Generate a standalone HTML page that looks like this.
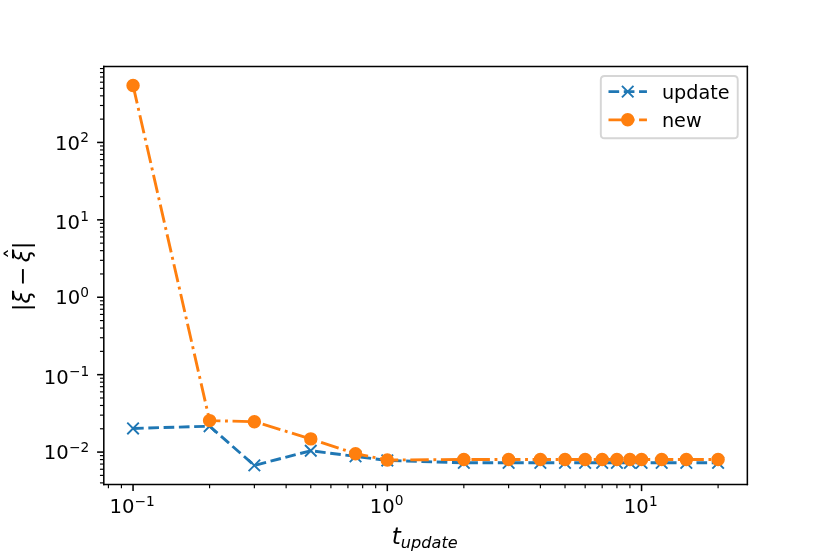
<!DOCTYPE html>
<html><head><meta charset="utf-8"><title>plot</title>
<style>html,body{margin:0;padding:0;background:#fff;width:830px;height:554px;overflow:hidden}svg{display:block}
text{font-family:"DejaVu Sans",sans-serif}</style></head>
<body>
<svg width="830.4" height="553.6" viewBox="0 0 432 288" version="1.1">
  <defs>
  <style type="text/css">*{stroke-linejoin: round; stroke-linecap: butt}</style>
 </defs>
 <g id="figure_1">
  <g id="patch_1">
   <path d="M 0 288 L 432 288 L 432 0 L 0 0 z
" style="fill: #ffffff"/>
  </g>
  <g id="axes_1">
   <g id="patch_2">
    <path d="M 54 252 L 388.8 252 L 388.8 34.56 L 54 34.56 z
" style="fill: #ffffff"/>
   </g>
   <g id="matplotlib.axis_1">
    <g id="xtick_1">
     <g id="line2d_1">
            <g>
       <path transform="translate(69.218182 252)" d="M 0 0 L 0 3.5 " style="stroke: #000000; stroke-width: 0.8"/>
      </g>
     </g>
     <g id="text_1" transform="translate(-0.5202 0.5202)">
            <g transform="translate(57.468182 266.598437) scale(1.02)">
       <text>
        <tspan x="0" y="-0.064063" style="font-size: 10px; font-family: 'DejaVu Sans'">1</tspan>
        <tspan x="6.362305" y="-0.064063" style="font-size: 10px; font-family: 'DejaVu Sans'">0</tspan>
        <tspan x="12.820312" y="-3.892188" style="font-size: 7px; font-family: 'DejaVu Sans'">−</tspan>
        <tspan x="18.685547" y="-3.892188" style="font-size: 7px; font-family: 'DejaVu Sans'">1</tspan>
       </text>
      </g>
     </g>
    </g>
    <g id="xtick_2">
     <g id="line2d_2">
      <g>
       <path transform="translate(201.490963 252)" d="M 0 0 L 0 3.5 " style="stroke: #000000; stroke-width: 0.8"/>
      </g>
     </g>
     <g id="text_2" transform="translate(-0.3642 1.1965)">
            <g transform="translate(192.690963 266.598437) scale(1.02)">
       <text>
        <tspan x="0" y="-0.976562" style="font-size: 10px; font-family: 'DejaVu Sans'">1</tspan>
        <tspan x="6.362305" y="-0.976562" style="font-size: 10px; font-family: 'DejaVu Sans'">0</tspan>
        <tspan x="12.820312" y="-4.804688" style="font-size: 7px; font-family: 'DejaVu Sans'">0</tspan>
       </text>
      </g>
     </g>
    </g>
    <g id="xtick_3">
     <g id="line2d_3">
      <g>
       <path transform="translate(333.763744 252)" d="M 0 0 L 0 3.5 " style="stroke: #000000; stroke-width: 0.8"/>
      </g>
     </g>
     <g id="text_3" transform="translate(-0.4162 0.4682)">
            <g transform="translate(324.963744 266.598437) scale(1.02)">
       <text>
        <tspan x="0" y="-0.064063" style="font-size: 10px; font-family: 'DejaVu Sans'">1</tspan>
        <tspan x="6.362305" y="-0.064063" style="font-size: 10px; font-family: 'DejaVu Sans'">0</tspan>
        <tspan x="12.820312" y="-3.892188" style="font-size: 7px; font-family: 'DejaVu Sans'">1</tspan>
       </text>
      </g>
     </g>
    </g>
    <g id="xtick_4">
     <g id="line2d_4">
            <g>
       <path transform="translate(56.399625 252)" d="M 0 0 L 0 2 " style="stroke: #000000; stroke-width: 0.6"/>
      </g>
     </g>
    </g>
    <g id="xtick_5">
     <g id="line2d_5">
      <g>
       <path transform="translate(63.165711 252)" d="M 0 0 L 0 2 " style="stroke: #000000; stroke-width: 0.6"/>
      </g>
     </g>
    </g>
    <g id="xtick_6">
     <g id="line2d_6">
      <g>
       <path transform="translate(109.036256 252)" d="M 0 0 L 0 2 " style="stroke: #000000; stroke-width: 0.6"/>
      </g>
     </g>
    </g>
    <g id="xtick_7">
     <g id="line2d_7">
      <g>
       <path transform="translate(132.328337 252)" d="M 0 0 L 0 2 " style="stroke: #000000; stroke-width: 0.6"/>
      </g>
     </g>
    </g>
    <g id="xtick_8">
     <g id="line2d_8">
      <g>
       <path transform="translate(148.854331 252)" d="M 0 0 L 0 2 " style="stroke: #000000; stroke-width: 0.6"/>
      </g>
     </g>
    </g>
    <g id="xtick_9">
     <g id="line2d_9">
      <g>
       <path transform="translate(161.672888 252)" d="M 0 0 L 0 2 " style="stroke: #000000; stroke-width: 0.6"/>
      </g>
     </g>
    </g>
    <g id="xtick_10">
     <g id="line2d_10">
      <g>
       <path transform="translate(172.146412 252)" d="M 0 0 L 0 2 " style="stroke: #000000; stroke-width: 0.6"/>
      </g>
     </g>
    </g>
    <g id="xtick_11">
     <g id="line2d_11">
      <g>
       <path transform="translate(181.00165 252)" d="M 0 0 L 0 2 " style="stroke: #000000; stroke-width: 0.6"/>
      </g>
     </g>
    </g>
    <g id="xtick_12">
     <g id="line2d_12">
      <g>
       <path transform="translate(188.672406 252)" d="M 0 0 L 0 2 " style="stroke: #000000; stroke-width: 0.6"/>
      </g>
     </g>
    </g>
    <g id="xtick_13">
     <g id="line2d_13">
      <g>
       <path transform="translate(195.438492 252)" d="M 0 0 L 0 2 " style="stroke: #000000; stroke-width: 0.6"/>
      </g>
     </g>
    </g>
    <g id="xtick_14">
     <g id="line2d_14">
      <g>
       <path transform="translate(241.309037 252)" d="M 0 0 L 0 2 " style="stroke: #000000; stroke-width: 0.6"/>
      </g>
     </g>
    </g>
    <g id="xtick_15">
     <g id="line2d_15">
      <g>
       <path transform="translate(264.601118 252)" d="M 0 0 L 0 2 " style="stroke: #000000; stroke-width: 0.6"/>
      </g>
     </g>
    </g>
    <g id="xtick_16">
     <g id="line2d_16">
      <g>
       <path transform="translate(281.127112 252)" d="M 0 0 L 0 2 " style="stroke: #000000; stroke-width: 0.6"/>
      </g>
     </g>
    </g>
    <g id="xtick_17">
     <g id="line2d_17">
      <g>
       <path transform="translate(293.945669 252)" d="M 0 0 L 0 2 " style="stroke: #000000; stroke-width: 0.6"/>
      </g>
     </g>
    </g>
    <g id="xtick_18">
     <g id="line2d_18">
      <g>
       <path transform="translate(304.419192 252)" d="M 0 0 L 0 2 " style="stroke: #000000; stroke-width: 0.6"/>
      </g>
     </g>
    </g>
    <g id="xtick_19">
     <g id="line2d_19">
      <g>
       <path transform="translate(313.274431 252)" d="M 0 0 L 0 2 " style="stroke: #000000; stroke-width: 0.6"/>
      </g>
     </g>
    </g>
    <g id="xtick_20">
     <g id="line2d_20">
      <g>
       <path transform="translate(320.945187 252)" d="M 0 0 L 0 2 " style="stroke: #000000; stroke-width: 0.6"/>
      </g>
     </g>
    </g>
    <g id="xtick_21">
     <g id="line2d_21">
      <g>
       <path transform="translate(327.711273 252)" d="M 0 0 L 0 2 " style="stroke: #000000; stroke-width: 0.6"/>
      </g>
     </g>
    </g>
    <g id="xtick_22">
     <g id="line2d_22">
      <g>
       <path transform="translate(373.581818 252)" d="M 0 0 L 0 2 " style="stroke: #000000; stroke-width: 0.6"/>
      </g>
     </g>
    </g>
    <g id="text_4" transform="translate(-0.2601 2.3931)">
          <g transform="translate(204.06 281.198125)">
      <text>
       <tspan x="0" y="-0.578125" style="font-style: oblique; font-size: 12px; font-family: 'DejaVu Sans'">t</tspan>
       <tspan x="4.705078" y="1.390625" style="font-style: oblique; font-size: 8.4px; font-family: 'DejaVu Sans'">u</tspan>
       <tspan x="10.028906" y="1.390625" style="font-style: oblique; font-size: 8.4px; font-family: 'DejaVu Sans'">p</tspan>
       <tspan x="15.360937" y="1.390625" style="font-style: oblique; font-size: 8.4px; font-family: 'DejaVu Sans'">d</tspan>
       <tspan x="20.692969" y="1.390625" style="font-style: oblique; font-size: 8.4px; font-family: 'DejaVu Sans'">a</tspan>
       <tspan x="25.84043" y="1.390625" style="font-style: oblique; font-size: 8.4px; font-family: 'DejaVu Sans'">t</tspan>
       <tspan x="29.133984" y="1.390625" style="font-style: oblique; font-size: 8.4px; font-family: 'DejaVu Sans'">e</tspan>
      </text>
     </g>
    </g>
   </g>
   <g id="matplotlib.axis_2">
    <g id="ytick_1">
     <g id="line2d_23">
            <g>
       <path transform="translate(54 235.190103)" d="M 0 0 L -3.5 0 " style="stroke: #000000; stroke-width: 0.8"/>
      </g>
     </g>
     <g id="text_5" transform="translate(-0.7283 0.8844)">
            <g transform="translate(23.5 238.989321) scale(1.02)">
       <text>
        <tspan x="0" y="-0.976562" style="font-size: 10px; font-family: 'DejaVu Sans'">1</tspan>
        <tspan x="6.362305" y="-0.976562" style="font-size: 10px; font-family: 'DejaVu Sans'">0</tspan>
        <tspan x="12.820312" y="-4.804688" style="font-size: 7px; font-family: 'DejaVu Sans'">−</tspan>
        <tspan x="18.685547" y="-4.804688" style="font-size: 7px; font-family: 'DejaVu Sans'">2</tspan>
       </text>
      </g>
     </g>
    </g>
    <g id="ytick_2">
     <g id="line2d_24">
      <g>
       <path transform="translate(54 194.917616)" d="M 0 0 L -3.5 0 " style="stroke: #000000; stroke-width: 0.8"/>
      </g>
     </g>
     <g id="text_6" transform="translate(-0.7283 0.8844)">
            <g transform="translate(23.5 198.716834) scale(1.02)">
       <text>
        <tspan x="0" y="-0.064063" style="font-size: 10px; font-family: 'DejaVu Sans'">1</tspan>
        <tspan x="6.362305" y="-0.064063" style="font-size: 10px; font-family: 'DejaVu Sans'">0</tspan>
        <tspan x="12.820312" y="-3.892188" style="font-size: 7px; font-family: 'DejaVu Sans'">−</tspan>
        <tspan x="18.685547" y="-3.892188" style="font-size: 7px; font-family: 'DejaVu Sans'">1</tspan>
       </text>
      </g>
     </g>
    </g>
    <g id="ytick_3">
     <g id="line2d_25">
      <g>
       <path transform="translate(54 154.645129)" d="M 0 0 L -3.5 0 " style="stroke: #000000; stroke-width: 0.8"/>
      </g>
     </g>
     <g id="text_7" transform="translate(-0.6763 0.8324)">
            <g transform="translate(29.4 158.444347) scale(1.02)">
       <text>
        <tspan x="0" y="-0.976562" style="font-size: 10px; font-family: 'DejaVu Sans'">1</tspan>
        <tspan x="6.362305" y="-0.976562" style="font-size: 10px; font-family: 'DejaVu Sans'">0</tspan>
        <tspan x="12.820312" y="-4.804688" style="font-size: 7px; font-family: 'DejaVu Sans'">0</tspan>
       </text>
      </g>
     </g>
    </g>
    <g id="ytick_4">
     <g id="line2d_26">
      <g>
       <path transform="translate(54 114.372642)" d="M 0 0 L -3.5 0 " style="stroke: #000000; stroke-width: 0.8"/>
      </g>
     </g>
     <g id="text_8" transform="translate(-0.7283 0.9364)">
            <g transform="translate(29.4 118.171861) scale(1.02)">
       <text>
        <tspan x="0" y="-0.064063" style="font-size: 10px; font-family: 'DejaVu Sans'">1</tspan>
        <tspan x="6.362305" y="-0.064063" style="font-size: 10px; font-family: 'DejaVu Sans'">0</tspan>
        <tspan x="12.820312" y="-3.892188" style="font-size: 7px; font-family: 'DejaVu Sans'">1</tspan>
       </text>
      </g>
     </g>
    </g>
    <g id="ytick_5">
     <g id="line2d_27">
      <g>
       <path transform="translate(54 74.100155)" d="M 0 0 L -3.5 0 " style="stroke: #000000; stroke-width: 0.8"/>
      </g>
     </g>
     <g id="text_9" transform="translate(-0.7283 0.9884)">
            <g transform="translate(29.4 77.899374) scale(1.02)">
       <text>
        <tspan x="0" y="-0.976562" style="font-size: 10px; font-family: 'DejaVu Sans'">1</tspan>
        <tspan x="6.362305" y="-0.976562" style="font-size: 10px; font-family: 'DejaVu Sans'">0</tspan>
        <tspan x="12.820312" y="-4.804688" style="font-size: 7px; font-family: 'DejaVu Sans'">2</tspan>
       </text>
      </g>
     </g>
    </g>
    <g id="ytick_6">
     <g id="line2d_28">
            <g>
       <path transform="translate(54 251.216136)" d="M 0 0 L -2 0 " style="stroke: #000000; stroke-width: 0.6"/>
      </g>
     </g>
    </g>
    <g id="ytick_7">
     <g id="line2d_29">
      <g>
       <path transform="translate(54 247.313329)" d="M 0 0 L -2 0 " style="stroke: #000000; stroke-width: 0.6"/>
      </g>
     </g>
    </g>
    <g id="ytick_8">
     <g id="line2d_30">
      <g>
       <path transform="translate(54 244.124503)" d="M 0 0 L -2 0 " style="stroke: #000000; stroke-width: 0.6"/>
      </g>
     </g>
    </g>
    <g id="ytick_9">
     <g id="line2d_31">
      <g>
       <path transform="translate(54 241.42839)" d="M 0 0 L -2 0 " style="stroke: #000000; stroke-width: 0.6"/>
      </g>
     </g>
    </g>
    <g id="ytick_10">
     <g id="line2d_32">
      <g>
       <path transform="translate(54 239.09291)" d="M 0 0 L -2 0 " style="stroke: #000000; stroke-width: 0.6"/>
      </g>
     </g>
    </g>
    <g id="ytick_11">
     <g id="line2d_33">
      <g>
       <path transform="translate(54 237.03287)" d="M 0 0 L -2 0 " style="stroke: #000000; stroke-width: 0.6"/>
      </g>
     </g>
    </g>
    <g id="ytick_12">
     <g id="line2d_34">
      <g>
       <path transform="translate(54 223.066876)" d="M 0 0 L -2 0 " style="stroke: #000000; stroke-width: 0.6"/>
      </g>
     </g>
    </g>
    <g id="ytick_13">
     <g id="line2d_35">
      <g>
       <path transform="translate(54 215.975243)" d="M 0 0 L -2 0 " style="stroke: #000000; stroke-width: 0.6"/>
      </g>
     </g>
    </g>
    <g id="ytick_14">
     <g id="line2d_36">
      <g>
       <path transform="translate(54 210.943649)" d="M 0 0 L -2 0 " style="stroke: #000000; stroke-width: 0.6"/>
      </g>
     </g>
    </g>
    <g id="ytick_15">
     <g id="line2d_37">
      <g>
       <path transform="translate(54 207.040842)" d="M 0 0 L -2 0 " style="stroke: #000000; stroke-width: 0.6"/>
      </g>
     </g>
    </g>
    <g id="ytick_16">
     <g id="line2d_38">
      <g>
       <path transform="translate(54 203.852017)" d="M 0 0 L -2 0 " style="stroke: #000000; stroke-width: 0.6"/>
      </g>
     </g>
    </g>
    <g id="ytick_17">
     <g id="line2d_39">
      <g>
       <path transform="translate(54 201.155903)" d="M 0 0 L -2 0 " style="stroke: #000000; stroke-width: 0.6"/>
      </g>
     </g>
    </g>
    <g id="ytick_18">
     <g id="line2d_40">
      <g>
       <path transform="translate(54 198.820423)" d="M 0 0 L -2 0 " style="stroke: #000000; stroke-width: 0.6"/>
      </g>
     </g>
    </g>
    <g id="ytick_19">
     <g id="line2d_41">
      <g>
       <path transform="translate(54 196.760384)" d="M 0 0 L -2 0 " style="stroke: #000000; stroke-width: 0.6"/>
      </g>
     </g>
    </g>
    <g id="ytick_20">
     <g id="line2d_42">
      <g>
       <path transform="translate(54 182.794389)" d="M 0 0 L -2 0 " style="stroke: #000000; stroke-width: 0.6"/>
      </g>
     </g>
    </g>
    <g id="ytick_21">
     <g id="line2d_43">
      <g>
       <path transform="translate(54 175.702756)" d="M 0 0 L -2 0 " style="stroke: #000000; stroke-width: 0.6"/>
      </g>
     </g>
    </g>
    <g id="ytick_22">
     <g id="line2d_44">
      <g>
       <path transform="translate(54 170.671163)" d="M 0 0 L -2 0 " style="stroke: #000000; stroke-width: 0.6"/>
      </g>
     </g>
    </g>
    <g id="ytick_23">
     <g id="line2d_45">
      <g>
       <path transform="translate(54 166.768355)" d="M 0 0 L -2 0 " style="stroke: #000000; stroke-width: 0.6"/>
      </g>
     </g>
    </g>
    <g id="ytick_24">
     <g id="line2d_46">
      <g>
       <path transform="translate(54 163.57953)" d="M 0 0 L -2 0 " style="stroke: #000000; stroke-width: 0.6"/>
      </g>
     </g>
    </g>
    <g id="ytick_25">
     <g id="line2d_47">
      <g>
       <path transform="translate(54 160.883416)" d="M 0 0 L -2 0 " style="stroke: #000000; stroke-width: 0.6"/>
      </g>
     </g>
    </g>
    <g id="ytick_26">
     <g id="line2d_48">
      <g>
       <path transform="translate(54 158.547936)" d="M 0 0 L -2 0 " style="stroke: #000000; stroke-width: 0.6"/>
      </g>
     </g>
    </g>
    <g id="ytick_27">
     <g id="line2d_49">
      <g>
       <path transform="translate(54 156.487897)" d="M 0 0 L -2 0 " style="stroke: #000000; stroke-width: 0.6"/>
      </g>
     </g>
    </g>
    <g id="ytick_28">
     <g id="line2d_50">
      <g>
       <path transform="translate(54 142.521902)" d="M 0 0 L -2 0 " style="stroke: #000000; stroke-width: 0.6"/>
      </g>
     </g>
    </g>
    <g id="ytick_29">
     <g id="line2d_51">
      <g>
       <path transform="translate(54 135.430269)" d="M 0 0 L -2 0 " style="stroke: #000000; stroke-width: 0.6"/>
      </g>
     </g>
    </g>
    <g id="ytick_30">
     <g id="line2d_52">
      <g>
       <path transform="translate(54 130.398676)" d="M 0 0 L -2 0 " style="stroke: #000000; stroke-width: 0.6"/>
      </g>
     </g>
    </g>
    <g id="ytick_31">
     <g id="line2d_53">
      <g>
       <path transform="translate(54 126.495868)" d="M 0 0 L -2 0 " style="stroke: #000000; stroke-width: 0.6"/>
      </g>
     </g>
    </g>
    <g id="ytick_32">
     <g id="line2d_54">
      <g>
       <path transform="translate(54 123.307043)" d="M 0 0 L -2 0 " style="stroke: #000000; stroke-width: 0.6"/>
      </g>
     </g>
    </g>
    <g id="ytick_33">
     <g id="line2d_55">
      <g>
       <path transform="translate(54 120.610929)" d="M 0 0 L -2 0 " style="stroke: #000000; stroke-width: 0.6"/>
      </g>
     </g>
    </g>
    <g id="ytick_34">
     <g id="line2d_56">
      <g>
       <path transform="translate(54 118.275449)" d="M 0 0 L -2 0 " style="stroke: #000000; stroke-width: 0.6"/>
      </g>
     </g>
    </g>
    <g id="ytick_35">
     <g id="line2d_57">
      <g>
       <path transform="translate(54 116.21541)" d="M 0 0 L -2 0 " style="stroke: #000000; stroke-width: 0.6"/>
      </g>
     </g>
    </g>
    <g id="ytick_36">
     <g id="line2d_58">
      <g>
       <path transform="translate(54 102.249415)" d="M 0 0 L -2 0 " style="stroke: #000000; stroke-width: 0.6"/>
      </g>
     </g>
    </g>
    <g id="ytick_37">
     <g id="line2d_59">
      <g>
       <path transform="translate(54 95.157782)" d="M 0 0 L -2 0 " style="stroke: #000000; stroke-width: 0.6"/>
      </g>
     </g>
    </g>
    <g id="ytick_38">
     <g id="line2d_60">
      <g>
       <path transform="translate(54 90.126189)" d="M 0 0 L -2 0 " style="stroke: #000000; stroke-width: 0.6"/>
      </g>
     </g>
    </g>
    <g id="ytick_39">
     <g id="line2d_61">
      <g>
       <path transform="translate(54 86.223381)" d="M 0 0 L -2 0 " style="stroke: #000000; stroke-width: 0.6"/>
      </g>
     </g>
    </g>
    <g id="ytick_40">
     <g id="line2d_62">
      <g>
       <path transform="translate(54 83.034556)" d="M 0 0 L -2 0 " style="stroke: #000000; stroke-width: 0.6"/>
      </g>
     </g>
    </g>
    <g id="ytick_41">
     <g id="line2d_63">
      <g>
       <path transform="translate(54 80.338442)" d="M 0 0 L -2 0 " style="stroke: #000000; stroke-width: 0.6"/>
      </g>
     </g>
    </g>
    <g id="ytick_42">
     <g id="line2d_64">
      <g>
       <path transform="translate(54 78.002962)" d="M 0 0 L -2 0 " style="stroke: #000000; stroke-width: 0.6"/>
      </g>
     </g>
    </g>
    <g id="ytick_43">
     <g id="line2d_65">
      <g>
       <path transform="translate(54 75.942923)" d="M 0 0 L -2 0 " style="stroke: #000000; stroke-width: 0.6"/>
      </g>
     </g>
    </g>
    <g id="ytick_44">
     <g id="line2d_66">
      <g>
       <path transform="translate(54 61.976928)" d="M 0 0 L -2 0 " style="stroke: #000000; stroke-width: 0.6"/>
      </g>
     </g>
    </g>
    <g id="ytick_45">
     <g id="line2d_67">
      <g>
       <path transform="translate(54 54.885295)" d="M 0 0 L -2 0 " style="stroke: #000000; stroke-width: 0.6"/>
      </g>
     </g>
    </g>
    <g id="ytick_46">
     <g id="line2d_68">
      <g>
       <path transform="translate(54 49.853702)" d="M 0 0 L -2 0 " style="stroke: #000000; stroke-width: 0.6"/>
      </g>
     </g>
    </g>
    <g id="ytick_47">
     <g id="line2d_69">
      <g>
       <path transform="translate(54 45.950895)" d="M 0 0 L -2 0 " style="stroke: #000000; stroke-width: 0.6"/>
      </g>
     </g>
    </g>
    <g id="ytick_48">
     <g id="line2d_70">
      <g>
       <path transform="translate(54 42.762069)" d="M 0 0 L -2 0 " style="stroke: #000000; stroke-width: 0.6"/>
      </g>
     </g>
    </g>
    <g id="ytick_49">
     <g id="line2d_71">
      <g>
       <path transform="translate(54 40.065955)" d="M 0 0 L -2 0 " style="stroke: #000000; stroke-width: 0.6"/>
      </g>
     </g>
    </g>
    <g id="ytick_50">
     <g id="line2d_72">
      <g>
       <path transform="translate(54 37.730475)" d="M 0 0 L -2 0 " style="stroke: #000000; stroke-width: 0.6"/>
      </g>
     </g>
    </g>
    <g id="ytick_51">
     <g id="line2d_73">
      <g>
       <path transform="translate(54 35.670436)" d="M 0 0 L -2 0 " style="stroke: #000000; stroke-width: 0.6"/>
      </g>
     </g>
    </g>
    <g id="text_10" transform="translate(-0.5202 0.4682)">
          <g transform="translate(16.62 161.4) rotate(-90)">
      <text>
       <tspan x="0" y="-0.5" style="font-size: 12px; font-family: 'DejaVu Sans'">|</tspan>
       <tspan x="13.072266" y="-0.5" style="font-size: 12px; font-family: 'DejaVu Sans'">−</tspan>
       <tspan x="32.15625" y="-0.5" style="font-size: 12px; font-family: 'DejaVu Sans'">|</tspan>
       <tspan x="33.012695" y="-4.40625" style="font-size: 12px; font-family: 'DejaVu Sans'">̂</tspan>
       <tspan x="4.042969" y="-0.5" style="font-style: oblique; font-size: 12px; font-family: 'DejaVu Sans'">ξ</tspan>
       <tspan x="25.464844" y="-0.5" style="font-style: oblique; font-size: 12px; font-family: 'DejaVu Sans'">ξ</tspan>
      </text>
     </g>
    </g>
   </g>
   <g id="line2d_74">
    <path d="M 69.218182 222.892844 L 109.036256 221.720818 L 132.328337 242.116364 L 161.672888 234.504128 L 184.964969 237.425923 L 201.490963 239.535721 L 241.309037 240.766456 L 264.601118 240.766456 L 281.127112 240.766456 L 293.945669 240.766456 L 304.419192 240.766456 L 313.274431 240.766456 L 320.945187 240.766456 L 327.711273 240.766456 L 333.763744 240.766456 L 344.237267 240.766456 L 357.055824 240.766456 L 373.581818 240.766456 " clip-path="url(#pf3ca0bb401)" style="fill: none; stroke-dasharray: 5.55,2.4; stroke-dashoffset: 0; stroke: #1f77b4; stroke-width: 1.5"/>
        <g clip-path="url(#pf3ca0bb401)">
     <path transform="translate(69.218182 222.892844)" d="M -3 3 L 3 -3 M -3 -3 L 3 3 " style="fill: #1f77b4; stroke: #1f77b4"/>
     <path transform="translate(109.036256 221.720818)" d="M -3 3 L 3 -3 M -3 -3 L 3 3 " style="fill: #1f77b4; stroke: #1f77b4"/>
     <path transform="translate(132.328337 242.116364)" d="M -3 3 L 3 -3 M -3 -3 L 3 3 " style="fill: #1f77b4; stroke: #1f77b4"/>
     <path transform="translate(161.672888 234.504128)" d="M -3 3 L 3 -3 M -3 -3 L 3 3 " style="fill: #1f77b4; stroke: #1f77b4"/>
     <path transform="translate(184.964969 237.425923)" d="M -3 3 L 3 -3 M -3 -3 L 3 3 " style="fill: #1f77b4; stroke: #1f77b4"/>
     <path transform="translate(201.490963 239.535721)" d="M -3 3 L 3 -3 M -3 -3 L 3 3 " style="fill: #1f77b4; stroke: #1f77b4"/>
     <path transform="translate(241.309037 240.766456)" d="M -3 3 L 3 -3 M -3 -3 L 3 3 " style="fill: #1f77b4; stroke: #1f77b4"/>
     <path transform="translate(264.601118 240.766456)" d="M -3 3 L 3 -3 M -3 -3 L 3 3 " style="fill: #1f77b4; stroke: #1f77b4"/>
     <path transform="translate(281.127112 240.766456)" d="M -3 3 L 3 -3 M -3 -3 L 3 3 " style="fill: #1f77b4; stroke: #1f77b4"/>
     <path transform="translate(293.945669 240.766456)" d="M -3 3 L 3 -3 M -3 -3 L 3 3 " style="fill: #1f77b4; stroke: #1f77b4"/>
     <path transform="translate(304.419192 240.766456)" d="M -3 3 L 3 -3 M -3 -3 L 3 3 " style="fill: #1f77b4; stroke: #1f77b4"/>
     <path transform="translate(313.274431 240.766456)" d="M -3 3 L 3 -3 M -3 -3 L 3 3 " style="fill: #1f77b4; stroke: #1f77b4"/>
     <path transform="translate(320.945187 240.766456)" d="M -3 3 L 3 -3 M -3 -3 L 3 3 " style="fill: #1f77b4; stroke: #1f77b4"/>
     <path transform="translate(327.711273 240.766456)" d="M -3 3 L 3 -3 M -3 -3 L 3 3 " style="fill: #1f77b4; stroke: #1f77b4"/>
     <path transform="translate(333.763744 240.766456)" d="M -3 3 L 3 -3 M -3 -3 L 3 3 " style="fill: #1f77b4; stroke: #1f77b4"/>
     <path transform="translate(344.237267 240.766456)" d="M -3 3 L 3 -3 M -3 -3 L 3 3 " style="fill: #1f77b4; stroke: #1f77b4"/>
     <path transform="translate(357.055824 240.766456)" d="M -3 3 L 3 -3 M -3 -3 L 3 3 " style="fill: #1f77b4; stroke: #1f77b4"/>
     <path transform="translate(373.581818 240.766456)" d="M -3 3 L 3 -3 M -3 -3 L 3 3 " style="fill: #1f77b4; stroke: #1f77b4"/>
    </g>
   </g>
   <g id="line2d_75">
    <path d="M 69.218182 44.443636 L 109.036256 218.817718 L 132.328337 219.37522 L 161.672888 228.321426 L 184.964969 236.032083 L 201.490963 239.312914 L 241.309037 239.049239 L 264.601118 239.049239 L 281.127112 239.049239 L 293.945669 239.049239 L 304.419192 239.049239 L 313.274431 239.049239 L 320.945187 239.049239 L 327.711273 239.049239 L 333.763744 239.049239 L 344.237267 239.049239 L 357.055824 239.049239 L 373.581818 239.049239 " clip-path="url(#pf3ca0bb401)" style="fill: none; stroke-dasharray: 9.6,2.4,1.5,2.4; stroke-dashoffset: 0; stroke: #ff7f0e; stroke-width: 1.5"/>
        <g clip-path="url(#pf3ca0bb401)">
     <path transform="translate(69.218182 44.443636)" d="M 0 3 C 0.795609 3 1.55874 2.683901 2.12132 2.12132 C 2.683901 1.55874 3 0.795609 3 0 C 3 -0.795609 2.683901 -1.55874 2.12132 -2.12132 C 1.55874 -2.683901 0.795609 -3 0 -3 C -0.795609 -3 -1.55874 -2.683901 -2.12132 -2.12132 C -2.683901 -1.55874 -3 -0.795609 -3 0 C -3 0.795609 -2.683901 1.55874 -2.12132 2.12132 C -1.55874 2.683901 -0.795609 3 0 3 z
" style="fill: #ff7f0e; stroke: #ff7f0e"/>
     <path transform="translate(109.036256 218.817718)" d="M 0 3 C 0.795609 3 1.55874 2.683901 2.12132 2.12132 C 2.683901 1.55874 3 0.795609 3 0 C 3 -0.795609 2.683901 -1.55874 2.12132 -2.12132 C 1.55874 -2.683901 0.795609 -3 0 -3 C -0.795609 -3 -1.55874 -2.683901 -2.12132 -2.12132 C -2.683901 -1.55874 -3 -0.795609 -3 0 C -3 0.795609 -2.683901 1.55874 -2.12132 2.12132 C -1.55874 2.683901 -0.795609 3 0 3 z
" style="fill: #ff7f0e; stroke: #ff7f0e"/>
     <path transform="translate(132.328337 219.37522)" d="M 0 3 C 0.795609 3 1.55874 2.683901 2.12132 2.12132 C 2.683901 1.55874 3 0.795609 3 0 C 3 -0.795609 2.683901 -1.55874 2.12132 -2.12132 C 1.55874 -2.683901 0.795609 -3 0 -3 C -0.795609 -3 -1.55874 -2.683901 -2.12132 -2.12132 C -2.683901 -1.55874 -3 -0.795609 -3 0 C -3 0.795609 -2.683901 1.55874 -2.12132 2.12132 C -1.55874 2.683901 -0.795609 3 0 3 z
" style="fill: #ff7f0e; stroke: #ff7f0e"/>
     <path transform="translate(161.672888 228.321426)" d="M 0 3 C 0.795609 3 1.55874 2.683901 2.12132 2.12132 C 2.683901 1.55874 3 0.795609 3 0 C 3 -0.795609 2.683901 -1.55874 2.12132 -2.12132 C 1.55874 -2.683901 0.795609 -3 0 -3 C -0.795609 -3 -1.55874 -2.683901 -2.12132 -2.12132 C -2.683901 -1.55874 -3 -0.795609 -3 0 C -3 0.795609 -2.683901 1.55874 -2.12132 2.12132 C -1.55874 2.683901 -0.795609 3 0 3 z
" style="fill: #ff7f0e; stroke: #ff7f0e"/>
     <path transform="translate(184.964969 236.032083)" d="M 0 3 C 0.795609 3 1.55874 2.683901 2.12132 2.12132 C 2.683901 1.55874 3 0.795609 3 0 C 3 -0.795609 2.683901 -1.55874 2.12132 -2.12132 C 1.55874 -2.683901 0.795609 -3 0 -3 C -0.795609 -3 -1.55874 -2.683901 -2.12132 -2.12132 C -2.683901 -1.55874 -3 -0.795609 -3 0 C -3 0.795609 -2.683901 1.55874 -2.12132 2.12132 C -1.55874 2.683901 -0.795609 3 0 3 z
" style="fill: #ff7f0e; stroke: #ff7f0e"/>
     <path transform="translate(201.490963 239.312914)" d="M 0 3 C 0.795609 3 1.55874 2.683901 2.12132 2.12132 C 2.683901 1.55874 3 0.795609 3 0 C 3 -0.795609 2.683901 -1.55874 2.12132 -2.12132 C 1.55874 -2.683901 0.795609 -3 0 -3 C -0.795609 -3 -1.55874 -2.683901 -2.12132 -2.12132 C -2.683901 -1.55874 -3 -0.795609 -3 0 C -3 0.795609 -2.683901 1.55874 -2.12132 2.12132 C -1.55874 2.683901 -0.795609 3 0 3 z
" style="fill: #ff7f0e; stroke: #ff7f0e"/>
     <path transform="translate(241.309037 239.049239)" d="M 0 3 C 0.795609 3 1.55874 2.683901 2.12132 2.12132 C 2.683901 1.55874 3 0.795609 3 0 C 3 -0.795609 2.683901 -1.55874 2.12132 -2.12132 C 1.55874 -2.683901 0.795609 -3 0 -3 C -0.795609 -3 -1.55874 -2.683901 -2.12132 -2.12132 C -2.683901 -1.55874 -3 -0.795609 -3 0 C -3 0.795609 -2.683901 1.55874 -2.12132 2.12132 C -1.55874 2.683901 -0.795609 3 0 3 z
" style="fill: #ff7f0e; stroke: #ff7f0e"/>
     <path transform="translate(264.601118 239.049239)" d="M 0 3 C 0.795609 3 1.55874 2.683901 2.12132 2.12132 C 2.683901 1.55874 3 0.795609 3 0 C 3 -0.795609 2.683901 -1.55874 2.12132 -2.12132 C 1.55874 -2.683901 0.795609 -3 0 -3 C -0.795609 -3 -1.55874 -2.683901 -2.12132 -2.12132 C -2.683901 -1.55874 -3 -0.795609 -3 0 C -3 0.795609 -2.683901 1.55874 -2.12132 2.12132 C -1.55874 2.683901 -0.795609 3 0 3 z
" style="fill: #ff7f0e; stroke: #ff7f0e"/>
     <path transform="translate(281.127112 239.049239)" d="M 0 3 C 0.795609 3 1.55874 2.683901 2.12132 2.12132 C 2.683901 1.55874 3 0.795609 3 0 C 3 -0.795609 2.683901 -1.55874 2.12132 -2.12132 C 1.55874 -2.683901 0.795609 -3 0 -3 C -0.795609 -3 -1.55874 -2.683901 -2.12132 -2.12132 C -2.683901 -1.55874 -3 -0.795609 -3 0 C -3 0.795609 -2.683901 1.55874 -2.12132 2.12132 C -1.55874 2.683901 -0.795609 3 0 3 z
" style="fill: #ff7f0e; stroke: #ff7f0e"/>
     <path transform="translate(293.945669 239.049239)" d="M 0 3 C 0.795609 3 1.55874 2.683901 2.12132 2.12132 C 2.683901 1.55874 3 0.795609 3 0 C 3 -0.795609 2.683901 -1.55874 2.12132 -2.12132 C 1.55874 -2.683901 0.795609 -3 0 -3 C -0.795609 -3 -1.55874 -2.683901 -2.12132 -2.12132 C -2.683901 -1.55874 -3 -0.795609 -3 0 C -3 0.795609 -2.683901 1.55874 -2.12132 2.12132 C -1.55874 2.683901 -0.795609 3 0 3 z
" style="fill: #ff7f0e; stroke: #ff7f0e"/>
     <path transform="translate(304.419192 239.049239)" d="M 0 3 C 0.795609 3 1.55874 2.683901 2.12132 2.12132 C 2.683901 1.55874 3 0.795609 3 0 C 3 -0.795609 2.683901 -1.55874 2.12132 -2.12132 C 1.55874 -2.683901 0.795609 -3 0 -3 C -0.795609 -3 -1.55874 -2.683901 -2.12132 -2.12132 C -2.683901 -1.55874 -3 -0.795609 -3 0 C -3 0.795609 -2.683901 1.55874 -2.12132 2.12132 C -1.55874 2.683901 -0.795609 3 0 3 z
" style="fill: #ff7f0e; stroke: #ff7f0e"/>
     <path transform="translate(313.274431 239.049239)" d="M 0 3 C 0.795609 3 1.55874 2.683901 2.12132 2.12132 C 2.683901 1.55874 3 0.795609 3 0 C 3 -0.795609 2.683901 -1.55874 2.12132 -2.12132 C 1.55874 -2.683901 0.795609 -3 0 -3 C -0.795609 -3 -1.55874 -2.683901 -2.12132 -2.12132 C -2.683901 -1.55874 -3 -0.795609 -3 0 C -3 0.795609 -2.683901 1.55874 -2.12132 2.12132 C -1.55874 2.683901 -0.795609 3 0 3 z
" style="fill: #ff7f0e; stroke: #ff7f0e"/>
     <path transform="translate(320.945187 239.049239)" d="M 0 3 C 0.795609 3 1.55874 2.683901 2.12132 2.12132 C 2.683901 1.55874 3 0.795609 3 0 C 3 -0.795609 2.683901 -1.55874 2.12132 -2.12132 C 1.55874 -2.683901 0.795609 -3 0 -3 C -0.795609 -3 -1.55874 -2.683901 -2.12132 -2.12132 C -2.683901 -1.55874 -3 -0.795609 -3 0 C -3 0.795609 -2.683901 1.55874 -2.12132 2.12132 C -1.55874 2.683901 -0.795609 3 0 3 z
" style="fill: #ff7f0e; stroke: #ff7f0e"/>
     <path transform="translate(327.711273 239.049239)" d="M 0 3 C 0.795609 3 1.55874 2.683901 2.12132 2.12132 C 2.683901 1.55874 3 0.795609 3 0 C 3 -0.795609 2.683901 -1.55874 2.12132 -2.12132 C 1.55874 -2.683901 0.795609 -3 0 -3 C -0.795609 -3 -1.55874 -2.683901 -2.12132 -2.12132 C -2.683901 -1.55874 -3 -0.795609 -3 0 C -3 0.795609 -2.683901 1.55874 -2.12132 2.12132 C -1.55874 2.683901 -0.795609 3 0 3 z
" style="fill: #ff7f0e; stroke: #ff7f0e"/>
     <path transform="translate(333.763744 239.049239)" d="M 0 3 C 0.795609 3 1.55874 2.683901 2.12132 2.12132 C 2.683901 1.55874 3 0.795609 3 0 C 3 -0.795609 2.683901 -1.55874 2.12132 -2.12132 C 1.55874 -2.683901 0.795609 -3 0 -3 C -0.795609 -3 -1.55874 -2.683901 -2.12132 -2.12132 C -2.683901 -1.55874 -3 -0.795609 -3 0 C -3 0.795609 -2.683901 1.55874 -2.12132 2.12132 C -1.55874 2.683901 -0.795609 3 0 3 z
" style="fill: #ff7f0e; stroke: #ff7f0e"/>
     <path transform="translate(344.237267 239.049239)" d="M 0 3 C 0.795609 3 1.55874 2.683901 2.12132 2.12132 C 2.683901 1.55874 3 0.795609 3 0 C 3 -0.795609 2.683901 -1.55874 2.12132 -2.12132 C 1.55874 -2.683901 0.795609 -3 0 -3 C -0.795609 -3 -1.55874 -2.683901 -2.12132 -2.12132 C -2.683901 -1.55874 -3 -0.795609 -3 0 C -3 0.795609 -2.683901 1.55874 -2.12132 2.12132 C -1.55874 2.683901 -0.795609 3 0 3 z
" style="fill: #ff7f0e; stroke: #ff7f0e"/>
     <path transform="translate(357.055824 239.049239)" d="M 0 3 C 0.795609 3 1.55874 2.683901 2.12132 2.12132 C 2.683901 1.55874 3 0.795609 3 0 C 3 -0.795609 2.683901 -1.55874 2.12132 -2.12132 C 1.55874 -2.683901 0.795609 -3 0 -3 C -0.795609 -3 -1.55874 -2.683901 -2.12132 -2.12132 C -2.683901 -1.55874 -3 -0.795609 -3 0 C -3 0.795609 -2.683901 1.55874 -2.12132 2.12132 C -1.55874 2.683901 -0.795609 3 0 3 z
" style="fill: #ff7f0e; stroke: #ff7f0e"/>
     <path transform="translate(373.581818 239.049239)" d="M 0 3 C 0.795609 3 1.55874 2.683901 2.12132 2.12132 C 2.683901 1.55874 3 0.795609 3 0 C 3 -0.795609 2.683901 -1.55874 2.12132 -2.12132 C 1.55874 -2.683901 0.795609 -3 0 -3 C -0.795609 -3 -1.55874 -2.683901 -2.12132 -2.12132 C -2.683901 -1.55874 -3 -0.795609 -3 0 C -3 0.795609 -2.683901 1.55874 -2.12132 2.12132 C -1.55874 2.683901 -0.795609 3 0 3 z
" style="fill: #ff7f0e; stroke: #ff7f0e"/>
    </g>
   </g>
   <g id="patch_3">
    <path d="M 54 252 L 54 34.56 " style="fill: none; stroke: #000000; stroke-width: 0.8; stroke-linejoin: miter; stroke-linecap: square"/>
   </g>
   <g id="patch_4">
    <path d="M 388.8 252 L 388.8 34.56 " style="fill: none; stroke: #000000; stroke-width: 0.8; stroke-linejoin: miter; stroke-linecap: square"/>
   </g>
   <g id="patch_5">
    <path d="M 54 252 L 388.8 252 " style="fill: none; stroke: #000000; stroke-width: 0.8; stroke-linejoin: miter; stroke-linecap: square"/>
   </g>
   <g id="patch_6">
    <path d="M 54 34.56 L 388.8 34.56 " style="fill: none; stroke: #000000; stroke-width: 0.8; stroke-linejoin: miter; stroke-linecap: square"/>
   </g>
   <g id="legend_1">
    <g id="patch_7">
     <path d="M 314.564062 71.91625 L 381.8 71.91625 Q 383.8 71.91625 383.8 69.91625 L 383.8 41.56 Q 383.8 39.56 381.8 39.56 L 314.564062 39.56 Q 312.564062 39.56 312.564062 41.56 L 312.564062 69.91625 Q 312.564062 71.91625 314.564062 71.91625 z
" style="fill: #ffffff; opacity: 0.8; stroke: #cccccc; stroke-linejoin: miter"/>
    </g>
    <g id="line2d_76">
     <path d="M 316.564062 47.658437 L 326.564062 47.658437 L 336.564062 47.658437 " style="fill: none; stroke-dasharray: 5.55,2.4; stroke-dashoffset: 0; stroke: #1f77b4; stroke-width: 1.5"/>
     <g>
      <path transform="translate(326.564062 47.658437)" d="M -3 3 L 3 -3 M -3 -3 L 3 3 " style="fill: #1f77b4; stroke: #1f77b4"/>
     </g>
    </g>
    <g id="text_11" transform="translate(-0.2081 0.3642)">
     <text style="font-size: 10px; font-family: 'DejaVu Sans', 'Bitstream Vera Sans', 'Computer Modern Sans Serif', 'Lucida Grande', 'Verdana', 'Geneva', 'Lucid', 'Arial', 'Helvetica', 'Avant Garde', sans-serif; text-anchor: start" x="344.564062" y="51.158437" transform="rotate(-0 344.564062 51.158437)">update</text>
    </g>
    <g id="line2d_77">
     <path d="M 316.564062 62.336562 L 326.564062 62.336562 L 336.564062 62.336562 " style="fill: none; stroke-dasharray: 9.6,2.4,1.5,2.4; stroke-dashoffset: 0; stroke: #ff7f0e; stroke-width: 1.5"/>
     <g>
      <path transform="translate(326.564062 62.336562)" d="M 0 3 C 0.795609 3 1.55874 2.683901 2.12132 2.12132 C 2.683901 1.55874 3 0.795609 3 0 C 3 -0.795609 2.683901 -1.55874 2.12132 -2.12132 C 1.55874 -2.683901 0.795609 -3 0 -3 C -0.795609 -3 -1.55874 -2.683901 -2.12132 -2.12132 C -2.683901 -1.55874 -3 -0.795609 -3 0 C -3 0.795609 -2.683901 1.55874 -2.12132 2.12132 C -1.55874 2.683901 -0.795609 3 0 3 z
" style="fill: #ff7f0e; stroke: #ff7f0e"/>
     </g>
    </g>
    <g id="text_12" transform="translate(-0.2081 0.3642)">
     <text style="font-size: 10px; font-family: 'DejaVu Sans', 'Bitstream Vera Sans', 'Computer Modern Sans Serif', 'Lucida Grande', 'Verdana', 'Geneva', 'Lucid', 'Arial', 'Helvetica', 'Avant Garde', sans-serif; text-anchor: start" x="344.564062" y="65.836562" transform="rotate(-0 344.564062 65.836562)">new</text>
    </g>
   </g>
  </g>
 </g>
 <defs>
  <clipPath id="pf3ca0bb401">
   <rect x="54" y="34.56" width="334.8" height="217.44"/>
  </clipPath>
 </defs>
</svg>

</body></html>
